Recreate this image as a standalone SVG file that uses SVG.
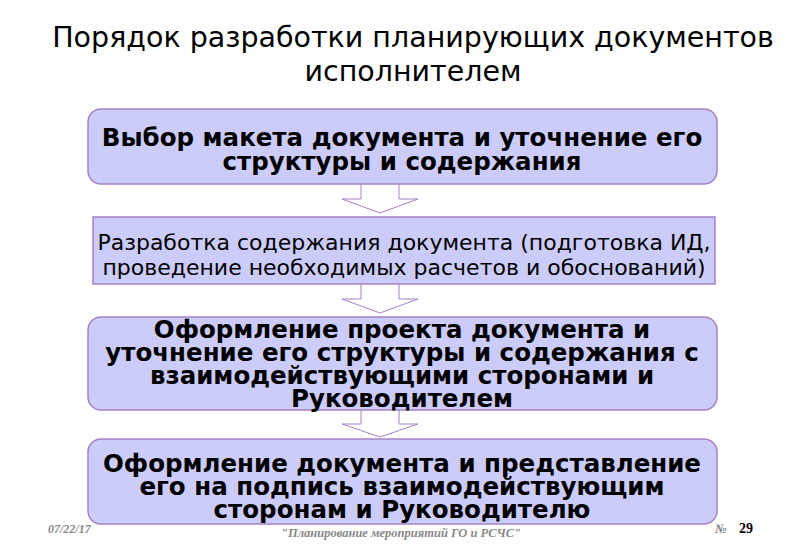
<svg xmlns="http://www.w3.org/2000/svg" width="800" height="553" viewBox="0 0 800 553">
<style>
.title{font-family:"DejaVu Sans",sans-serif;font-size:28.5px;fill:#000;text-anchor:middle}
.box{fill:#ccccfa;stroke:#a582c8;stroke-width:1.5}
.b{font-family:"DejaVu Sans",sans-serif;font-size:24.5px;font-weight:bold;fill:#000;text-anchor:middle}
.n{font-family:"DejaVu Sans",sans-serif;font-size:22px;fill:#000;text-anchor:middle}
.arr{fill:#fff;stroke:#a582c8;stroke-width:1}
.ft{font-family:"Liberation Serif",serif;font-style:italic;font-weight:bold;fill:#888}
</style>
<rect width="800" height="553" fill="#fff"/>
<g id="title">
<text class="title" x="413" y="47">Порядок разработки планирующих документов</text>
<text class="title" x="413" y="81">исполнителем</text>
</g>
<g id="footer">
<text class="ft" x="48" y="533" font-size="12">07/22/17</text>
<text class="ft" x="401" y="537" text-anchor="middle" font-size="12.5">"Планирование мероприятий ГО и РСЧС"</text>
<text class="ft" x="715" y="533" font-size="13" font-weight="normal">№</text>
<text x="739" y="533" font-family="Liberation Serif,serif" font-weight="bold" font-size="14" fill="#000">29</text>
</g>
<g id="connectors">
<path class="arr" d="M361,184 V199 H342 L380,213 L418,199 H399 V184"/>
<path class="arr" d="M361,284 V299 H342 L380,313 L418,299 H399 V284"/>
<path class="arr" d="M361,410 V424 H342 L380,437 L418,424 H399 V410"/>
</g>
<g id="node1">
<rect class="box" x="88" y="109" width="629" height="75" rx="13"/>
<text class="b" x="402" y="146">Выбор макета документа и уточнение его</text>
<text class="b" x="402" y="170">структуры и содержания</text>
</g>
<g id="node2">
<rect class="box" x="93" y="217" width="622" height="67"/>
<text class="n" x="404" y="250">Разработка содержания документа (подготовка ИД,</text>
<text class="n" x="404" y="275">проведение необходимых расчетов и обоснований)</text>
</g>
<g id="node3">
<rect class="box" x="88" y="317" width="629" height="93" rx="13"/>
<text class="b" x="402" y="338">Оформление проекта документа и</text>
<text class="b" x="402" y="361">уточнение его структуры и содержания с</text>
<text class="b" x="402" y="384">взаимодействующими сторонами и</text>
<text class="b" x="402" y="407">Руководителем</text>
</g>
<g id="node4">
<rect class="box" x="88" y="439" width="629" height="85" rx="13"/>
<text class="b" x="402" y="472">Оформление документа и представление</text>
<text class="b" x="402" y="495">его на подпись взаимодействующим</text>
<text class="b" x="402" y="518">сторонам и Руководителю</text>
</g>
</svg>
